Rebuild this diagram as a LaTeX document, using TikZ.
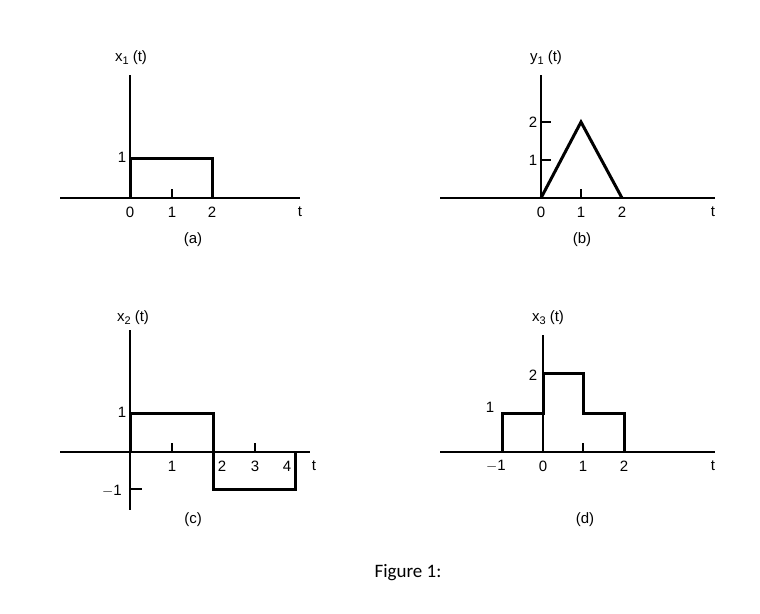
\documentclass[tikz,border=0pt]{standalone}
\usepackage{fontspec}
\setmainfont{Liberation Sans}
\newfontfamily\figfont{Carlito}
\newcommand{\sbs}[1]{\raisebox{-0.3ex}{\fontsize{11}{12}\selectfont #1}}
\begin{document}
\begin{tikzpicture}[x=1pt,y=-1pt,
  ax/.style={line width=1.1pt},
  sig/.style={line width=3pt,line cap=butt,line join=miter},
  lbl/.style={font=\fontsize{15}{17}\selectfont,inner sep=0pt}]
\useasboundingbox (0,0) rectangle (760,613);
% (a)
\draw[ax] (60,198) -- (300,198);
\draw[ax] (130,75) -- (130,198);
\draw[ax] (172,189) -- (172,198);
\draw[sig] (130,198) -- (130,158) -- (212,158) -- (212,198);
\node[lbl] (la) at (131,58) {x\sbs{1} (t)};
\node[lbl] (a1) at (122,157) {1};
\node[lbl] (a0) at (130,212) {0};
\node[lbl] (a1x) at (172,212) {1};
\node[lbl] (a2) at (212,212) {2};
\node[lbl] (at) at (300,212) {t};
\node[lbl] (ca) at (193,240) {(a)};
% (b)
\draw[ax] (440,198) -- (715,198);
\draw[ax] (541,75) -- (541,198);
\draw[ax] (541,160) -- (551,160);
\draw[ax] (541,122) -- (551,122);
\draw[ax] (581,189) -- (581,198);
\draw[sig] (541,198) -- (581,122) -- (622,198);
\node[lbl] (lb) at (546,58) {y\sbs{1} (t)};
\node[lbl] (b1) at (533,160) {1};
\node[lbl] (b2) at (533,122) {2};
\node[lbl] (b0) at (541,212) {0};
\node[lbl] (b1x) at (581,212) {1};
\node[lbl] (b2x) at (622,212) {2};
\node[lbl] (bt) at (713,212) {t};
\node[lbl] (cb) at (582,240) {(b)};
% (c)
\draw[ax] (60,452) -- (310,452);
\draw[ax] (130,330) -- (130,510);
\draw[ax] (172,443) -- (172,452);
\draw[ax] (255,443) -- (255,452);
\draw[ax] (130,489) -- (142,489);
\draw[sig] (130,452) -- (130,413) -- (213,413) -- (213,489) -- (295,489) -- (295,452);
\node[lbl] (lc) at (133,318) {x\sbs{2} (t)};
\node[lbl] (c1) at (122,412) {1};
\node[lbl] (cm1) at (112,491) {$-$1};
\node[lbl] (c1x) at (172,466) {1};
\node[lbl] (c2x) at (222,466) {2};
\node[lbl] (c3x) at (255,466) {3};
\node[lbl] (c4x) at (287,466) {4};
\node[lbl] (ct) at (314,466) {t};
\node[lbl] (cc) at (193,520) {(c)};
% (d)
\draw[ax] (440,452) -- (715,452);
\draw[ax] (543,335) -- (543,452);
\draw[ax] (583,443) -- (583,452);
\draw[sig] (502,452) -- (502,413) -- (543,413) -- (543,373) -- (583,373) -- (583,413) -- (624,413) -- (624,452);
\node[lbl] (ld) at (548,318) {x\sbs{3} (t)};
\node[lbl] (d1) at (490,407) {1};
\node[lbl] (d2) at (533,375) {2};
\node[lbl] (dm1) at (496,466) {$-$1};
\node[lbl] (d0) at (543,466) {0};
\node[lbl] (d1x) at (583,466) {1};
\node[lbl] (d2x) at (624,466) {2};
\node[lbl] (dt) at (713,466) {t};
\node[lbl] (cd) at (585,520) {(d)};
\node[font=\figfont\fontsize{19}{22}\selectfont,inner sep=0pt] (fig) at (408,573) {Figure 1:};
\end{tikzpicture}
\end{document}
